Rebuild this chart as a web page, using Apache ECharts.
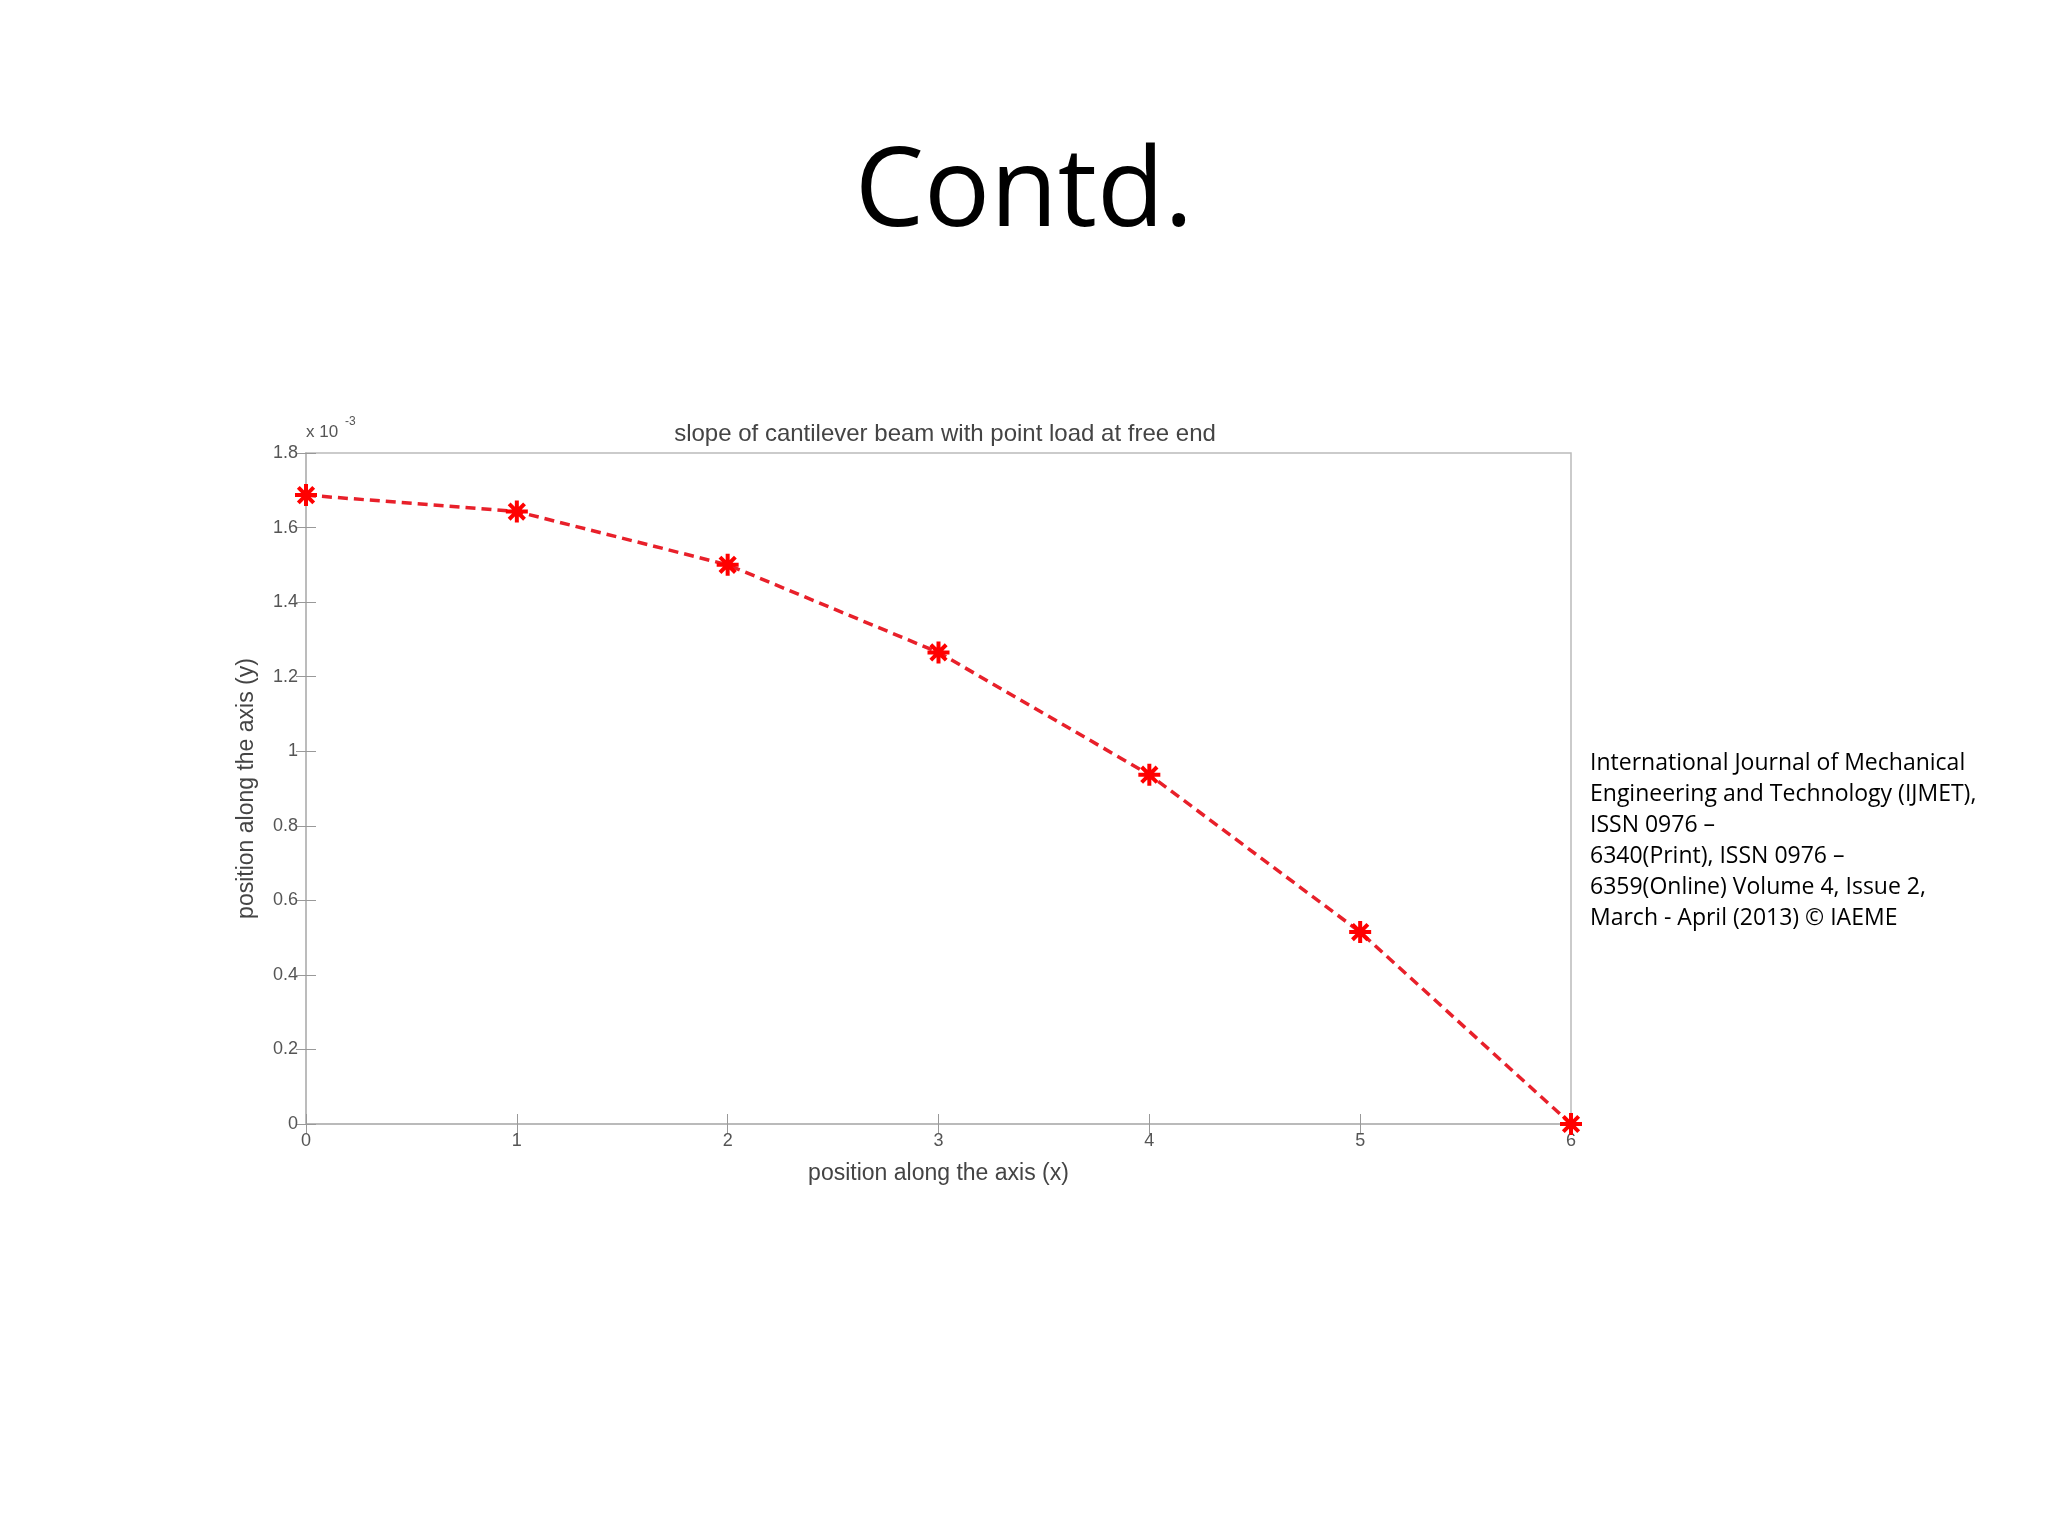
<!DOCTYPE html><html><head><meta charset="utf-8"><script src="https://cdn.jsdelivr.net/npm/echarts@6/dist/echarts.min.js"></script></head><body style="margin:0;background:#fff"><div id="c" style="width:2048px;height:1536px"></div><script>
const xValues=[0,1,2,3,4,5,6];
const slopeValues=[1.687,1.643,1.500,1.265,0.937,0.515,0.0];
const yTicks=[0,0.2,0.4,0.6,0.8,1,1.2,1.4,1.6,1.8];
const sideText=['International Journal of Mechanical','Engineering and Technology (IJMET),','ISSN 0976 –','6340(Print), ISSN 0976 –','6359(Online) Volume 4, Issue 2,','March - April (2013) © IAEME'];
const star='path://M0,-10L0,10M-10,0L10,0M-7,-7L7,7M-7,7L7,-7';
const ax={color:'#555',fontSize:18,fontFamily:'Liberation Sans'};
const line={lineStyle:{color:'#bbb',width:1.5}};
const chart=echarts.init(document.getElementById('c'));
chart.setOption({
animation:false,
title:[{text:'Contd.',left:'center',top:135,textStyle:{fontSize:110,fontWeight:'normal',fontFamily:'Open Sans',color:'#000'}},
{text:'slope of cantilever beam with point load at free end',left:940,textAlign:'center',top:417,textStyle:{fontSize:24,fontWeight:'normal',fontFamily:'Liberation Sans',color:'#444'}}],
graphic:[{type:'text',left:1590,top:748,style:{text:sideText.join('\n'),font:'23px "Open Sans"',lineHeight:31,fill:'#000'}},
{type:'text',left:306,top:424,style:{text:'x 10',font:'17px "Liberation Sans"',fill:'#555'}},
{type:'text',left:345,top:416,style:{text:'-3',font:'12px "Liberation Sans"',fill:'#555'}}],
grid:{left:306,right:477,top:453,bottom:412,show:true,borderColor:'#bbb',borderWidth:1.5,backgroundColor:'transparent'},
xAxis:[{type:'value',min:0,max:6,interval:1,name:'position along the axis (x)',nameLocation:'middle',nameGap:38,nameTextStyle:{fontSize:23,color:'#444',fontFamily:'Liberation Sans'},axisLine:line,axisTick:{inside:true,length:10,lineStyle:{color:'#999'}},axisLabel:ax,splitLine:{show:false}},
{type:'value',position:'top',min:0,max:6,interval:1,axisLine:{show:true,...line},axisTick:{show:true,inside:true,length:10,lineStyle:{color:'#999'}},axisLabel:{show:false},splitLine:{show:false}}],
yAxis:[{type:'value',min:0,max:1.8,interval:0.2,name:'position along the axis (y)',nameLocation:'middle',nameGap:48,nameTextStyle:{fontSize:23,color:'#444',fontFamily:'Liberation Sans'},axisLine:{show:true,...line},axisTick:{show:true,inside:true,length:10,lineStyle:{color:'#999'}},axisLabel:{...ax,formatter:v=>String(+v.toFixed(1))},splitLine:{show:false}},
{type:'value',position:'right',min:0,max:1.8,interval:0.2,axisLine:{show:true,...line},axisTick:{show:true,inside:true,length:10,lineStyle:{color:'#999'}},axisLabel:{show:false},splitLine:{show:false}}],
series:[{type:'line',data:xValues.map((x,i)=>[x,slopeValues[i]]),lineStyle:{color:'#e8202a',width:3.5,type:[10,6]},symbol:star,symbolSize:22,itemStyle:{color:'#f00',borderColor:'#f00',borderWidth:4},clip:false},
{type:'line',xAxisIndex:1,yAxisIndex:1,data:[],silent:true}]
});
</script></body></html>
